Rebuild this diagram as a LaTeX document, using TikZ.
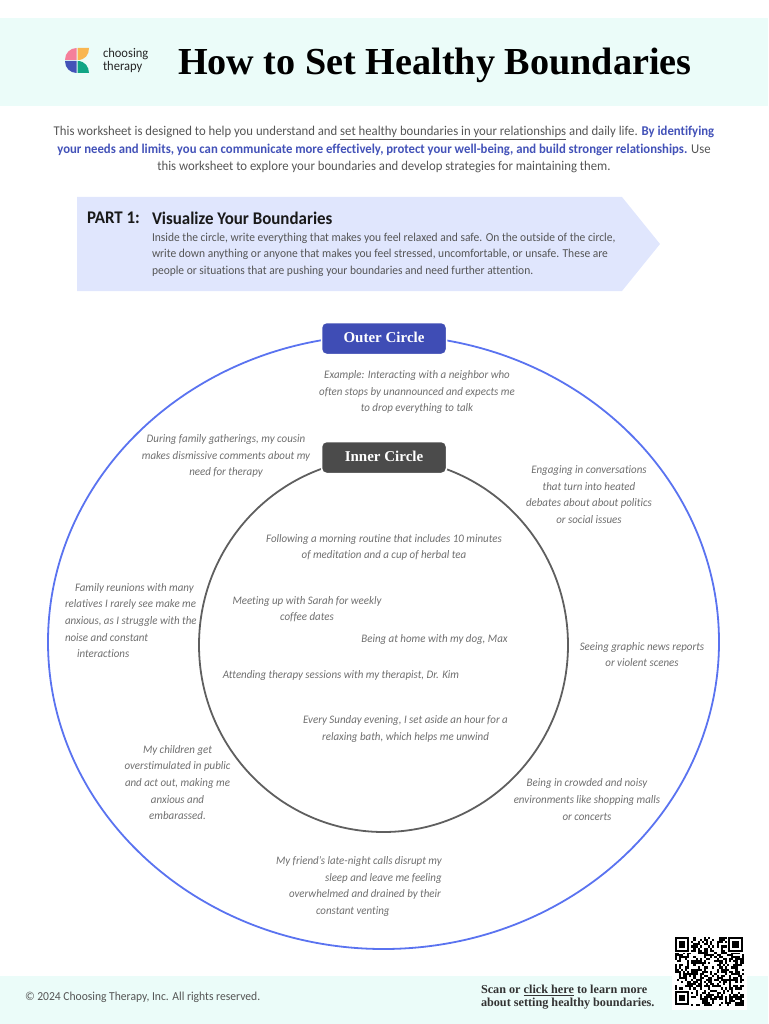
\documentclass[tikz,border=0pt]{standalone}
\usepackage{fontspec}
\setmainfont[FakeStretch=0.95,Ligatures=NoCommon]{Carlito}
\newfontfamily\headfont{Liberation Serif}
\usetikzlibrary{shapes.geometric, positioning}

\definecolor{bandmint}{HTML}{EBFCF9}
\definecolor{arrowblue}{HTML}{E0E6FD}
\definecolor{ringblue}{HTML}{5A73F0}
\definecolor{ringgray}{HTML}{5F5F5F}
\definecolor{pillblue}{HTML}{3F4DB5}
\definecolor{pillgray}{HTML}{4B4B4B}
\definecolor{notegray}{HTML}{6E6E6E}
\definecolor{introgray}{HTML}{555555}
\definecolor{introblue}{HTML}{4352B8}
\definecolor{logopink}{HTML}{F57F9A}
\definecolor{logoorange}{HTML}{F9B651}
\definecolor{logoteal}{HTML}{10A585}

\begin{document}
\begin{tikzpicture}[x=1pt, y=-1pt, inner sep=0pt, outer sep=0pt]
\tikzstyle{note}=[font=\fontsize{11.5}{16.6}\selectfont\itshape, text=notegray, align=center]
\tikzstyle{noteleft}=[note, align=left, anchor=west]
\tikzstyle{body}=[font=\fontsize{12.1}{16.6}\selectfont, text=introgray, align=left, anchor=west]
\tikzstyle{ring}=[ellipse, draw, line width=1.8pt]
\tikzstyle{pill}=[rounded corners=5pt, draw=white, line width=1.5pt, text=white, minimum width=125pt, minimum height=32pt,
  font=\headfont\bfseries\fontsize{15}{18}\selectfont]
\tikzstyle{qrmark}=[fill=black]

\useasboundingbox (0,0) rectangle (768,1024);

\fill[bandmint] (0,18) rectangle (768,106);
\fill[bandmint] (0,976) rectangle (768,1024);

\fill[logopink] (76.7,60) -- (65,60) .. controls (65,53) and (70,48) .. (76.7,48) -- cycle;
\fill[logoorange] (77.6,48) -- (89,48) .. controls (89,55) and (85,60) .. (77.6,60) -- cycle;
\fill[introblue] (76.7,61) -- (65,61) .. controls (65,68) and (70,73) .. (76.7,73) -- cycle;
\fill[logoteal] (77.6,61) .. controls (85,61) and (89,67) .. (89,73) -- (77.6,73) -- cycle;

\node[anchor=west, text=black!85, align=left, font=\fontsize{13.2}{13}\selectfont] (logo) at (103,60.5) {choosing\\therapy};
\node[anchor=west, font=\headfont\bfseries\fontsize{38.2}{40}\selectfont] (title) at (178,65) {How to Set Healthy Boundaries};

\node[font=\fontsize{13.4}{17.9}\selectfont, text=introgray, align=center] (intro) at (384,149.5)
  {This worksheet is designed to help you understand and \underline{set healthy boundaries in your relationships} and daily life. \textcolor{introblue}{\bfseries By identifying}\\
   \textcolor{introblue}{\bfseries your needs and limits, you can communicate more effectively, protect your well-being, and build stronger relationships.} Use\\
   this worksheet to explore your boundaries and develop strategies for maintaining them.};

\fill[arrowblue] (77,197) -- (622,197) -- (660,244) -- (622,291) -- (77,291) -- cycle;
\node[anchor=west, font=\bfseries\fontsize{17.8}{20}\selectfont, text=black!90] (part) at (87,218) {PART 1:};
\node[anchor=west, font=\bfseries\fontsize{17.8}{20}\selectfont, text=black!90] (parttitle) at (152,218) {Visualize Your Boundaries};
\node[body] (partbody) at (152,254.5)
  {Inside the circle, write everything that makes you feel relaxed and safe. On the outside of the circle,\\
   write down anything or anyone that makes you feel stressed, uncomfortable, or unsafe. These are\\
   people or situations that are pushing your boundaries and need further attention.};

\node[ring, draw=ringblue, minimum width=671pt, minimum height=614pt] (outer) at (383.5,642) {};
\node[ring, draw=ringgray, minimum width=369pt, minimum height=374pt] (inner) at (383.5,645) {};
\node[pill, fill=pillblue] (outerpill) at (384,338.5) {\raisebox{2pt}{Outer Circle}};
\node[pill, fill=pillgray] (innerpill) at (384,457.5) {\raisebox{2pt}{Inner Circle}};

\node[note] (example) at (417,392) {Example: Interacting with a neighbor who\\often stops by unannounced and expects me\\to drop everything to talk};
\node[note] (cousin) at (226,456) {During family gatherings, my cousin\\makes dismissive comments about my\\need for therapy};
\node[note] (debates) at (589,494.5) {Engaging in conversations\\that turn into heated\\debates about about politics\\or social issues};
\node[noteleft] (reunions) at (65,620.5) {\hspace*{10pt}Family reunions with many\\relatives I rarely see make me\\anxious, as I struggle with the\\noise and constant\\\hspace*{12pt}interactions};
\node[note] (news) at (642,654.5) {Seeing graphic news reports\\or violent scenes};
\node[note] (children) at (177.5,782.5) {My children get\\overstimulated in public\\and act out, making me\\anxious and\\embarassed.};
\node[note] (crowds) at (587,799.5) {Being in crowded and noisy\\environments like shopping malls\\or concerts};
\node[noteleft] (calls) at (276,886.5) {My friend's late-night calls disrupt my\\\hspace*{49pt}sleep and leave me feeling\\\hspace*{13pt}overwhelmed and drained by their\\\hspace*{40pt}constant venting};

\node[note] (routine) at (384,547.5) {Following a morning routine that includes 10 minutes\\of meditation and a cup of herbal tea};
\node[note] (sarah) at (307,609) {Meeting up with Sarah for weekly\\coffee dates};
\node[note] (home) at (434.5,639.5) {Being at home with my dog, Max};
\node[note] (kim) at (341,675.5) {Attending therapy sessions with my therapist, Dr. Kim};
\node[note] (bath) at (405.5,729) {Every Sunday evening, I set aside an hour for a\\relaxing bath, which helps me unwind};

\node[anchor=west, font=\fontsize{12.2}{14}\selectfont, text=introgray] (copyright) at (25,997.5) {© 2024 Choosing Therapy, Inc. All rights reserved.};
\node[anchor=west, align=left, text=black!80, font=\headfont\bfseries\fontsize{12.2}{13.4}\selectfont] (scan) at (481,997)
  {Scan or \underline{click here} to learn more\\about setting healthy boundaries.};

\fill[white] (672,935) rectangle (747,1010);
\pgfmathsetseed{42}
\foreach \i in {0,...,32}
  \foreach \j in {0,...,32} {
    \pgfmathtruncatemacro\qrbit{rnd>0.5?1:0}
    \ifnum\qrbit=1
      \fill[qrmark] (674.5+\i*2.1,937+\j*2.1) rectangle +(2.1,2.1);
    \fi
  }
\foreach \qx/\qy in {674.5/937, 728.2/937, 674.5/990.7} {
  \fill[white] (\qx-1,\qy-1) rectangle +(17,17);
  \fill[qrmark] (\qx,\qy) rectangle +(14.7,14.7);
  \fill[white] (\qx+2.1,\qy+2.1) rectangle +(10.5,10.5);
  \fill[qrmark] (\qx+4.2,\qy+4.2) rectangle +(6.3,6.3);
}
\end{tikzpicture}
\end{document}
